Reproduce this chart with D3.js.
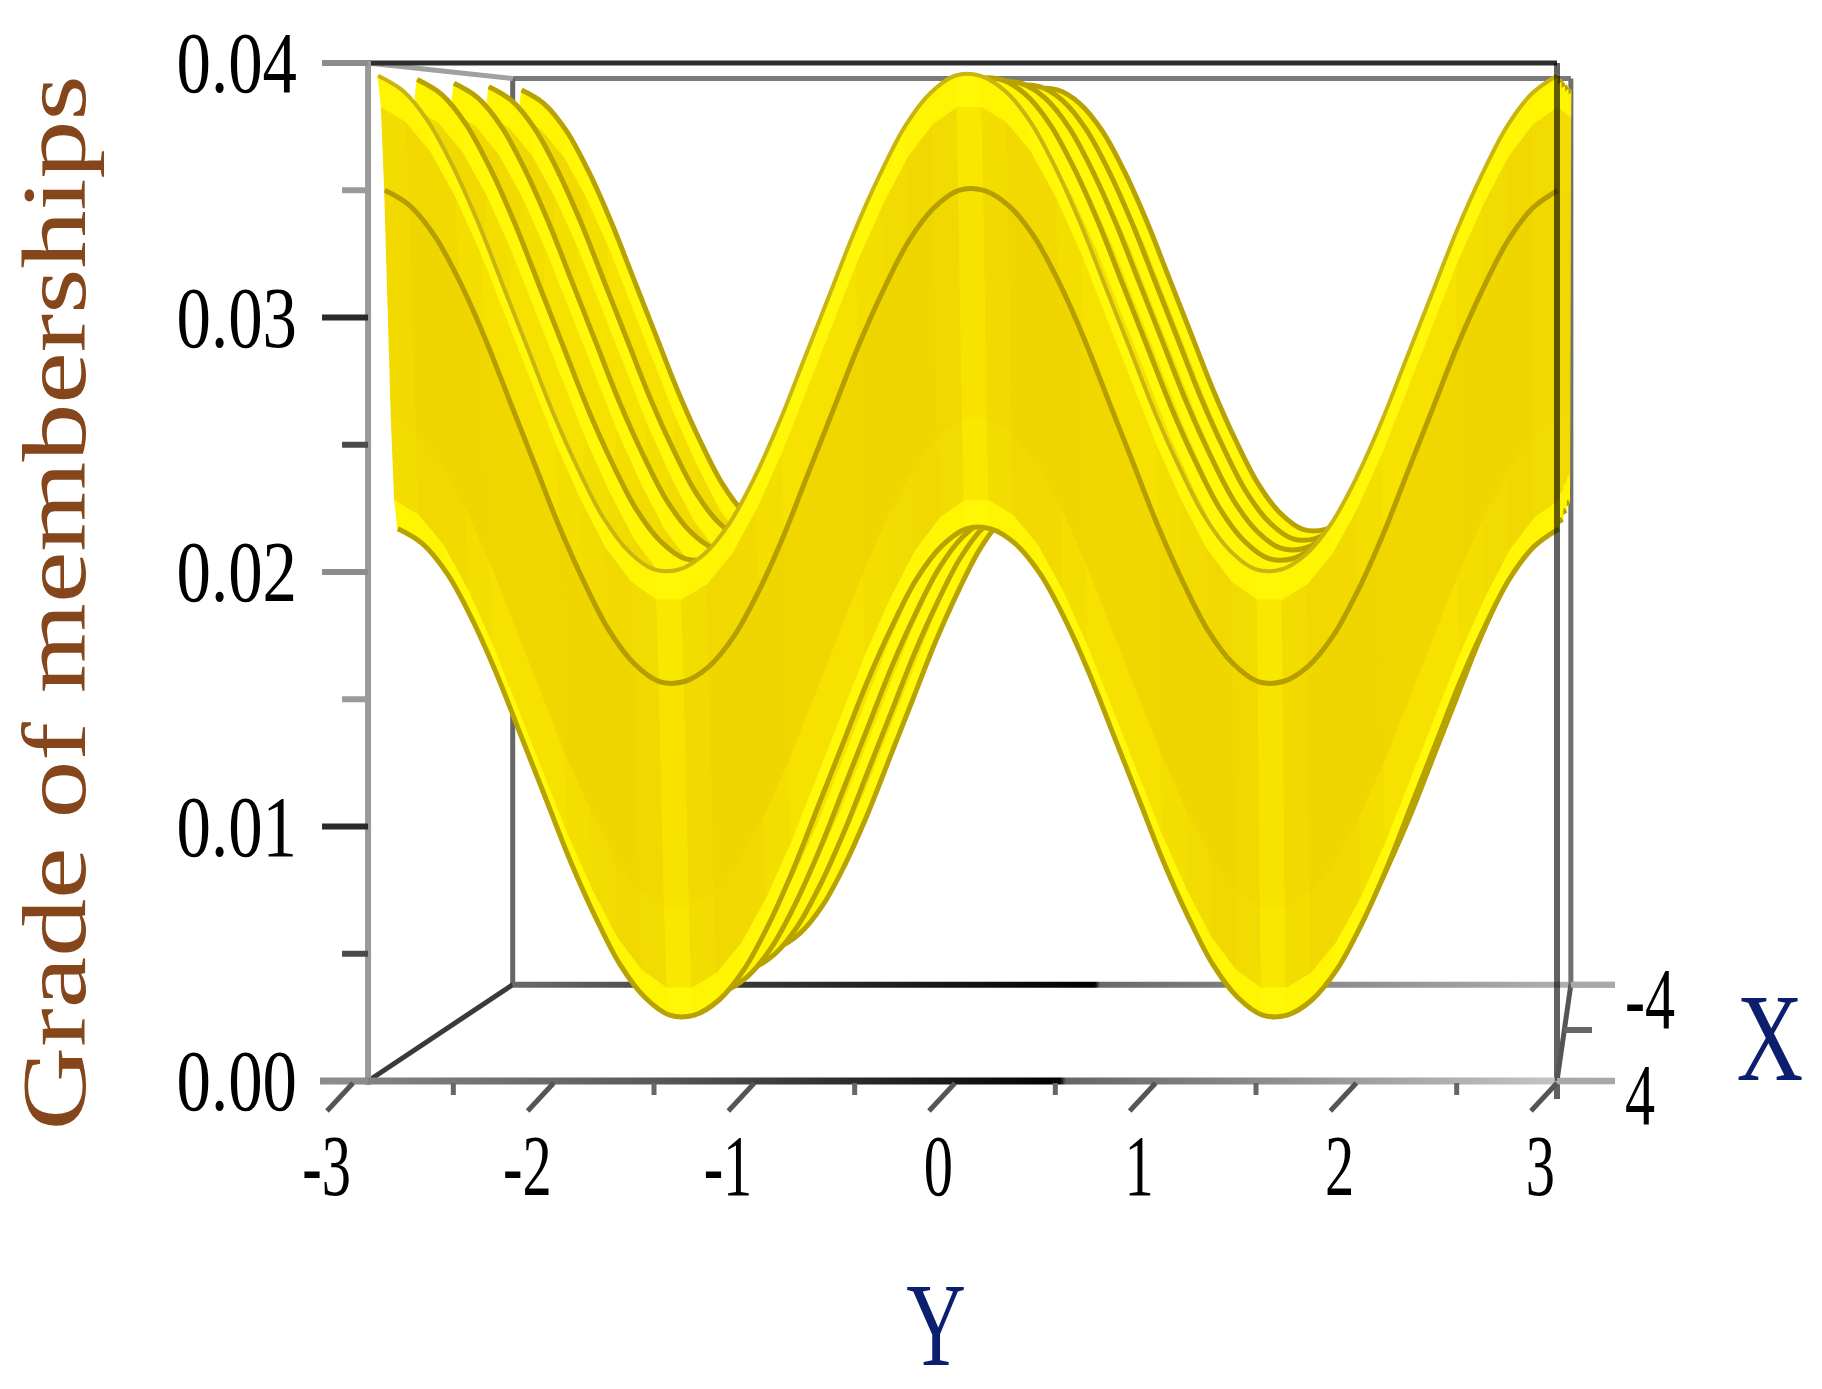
<!DOCTYPE html>
<html>
<head>
<meta charset="utf-8">
<script src="https://cdn.jsdelivr.net/npm/d3@7"></script>
<style>
  body { margin: 0; background: #fff; }
  svg { display: block; }
  text { font-family: "Liberation Serif", "Times New Roman", serif; }
</style>
</head>
<body>
<svg id="chart"></svg>
<script>
// sample positions along Y (horizontal axis)
var ySamples = [-2.875, -2.75, -2.625, -2.5, -2.375, -2.25, -2.125, -2, -1.875, -1.75, -1.625, -1.5,
  -1.375, -1.25, -1.125, -1, -0.875, -0.75, -0.625, -0.5, -0.375, -0.25, -0.125, 0,
  0.125, 0.25, 0.375, 0.5, 0.625, 0.75, 0.875, 1, 1.125, 1.25, 1.375, 1.5,
  1.625, 1.75, 1.875, 2, 2.125, 2.25, 2.375, 2.5, 2.625, 2.75, 2.875, 3];

// membership profile along Y
var profileY = [0.0215, 0.0209, 0.0197, 0.0179, 0.0157, 0.0132, 0.0107, 0.0082, 0.0060, 0.0041, 0.0028, 0.0021,
  0.0021, 0.0027, 0.0039, 0.0057, 0.0079, 0.0104, 0.0129, 0.0154, 0.0176, 0.0195, 0.0208, 0.0215,
  0.0215, 0.0209, 0.0197, 0.0179, 0.0157, 0.0132, 0.0107, 0.0082, 0.0060, 0.0041, 0.0028, 0.0021,
  0.0021, 0.0027, 0.0039, 0.0057, 0.0079, 0.0104, 0.0129, 0.0154, 0.0176, 0.0195, 0.0208, 0.0215];

// sample positions along X (depth axis), front (4) to back (-4)
var xSamples = [4, 3.833, 3.667, 3.5, 3.333, 3.167, 3, 2.833, 2.667, 2.5, 2.333, 2.167,
  2, 1.833, 1.667, 1.5, 1.333, 1.167, 1, 0.833, 0.667, 0.5, 0.333, 0.167,
  0, -0.167, -0.333, -0.5, -0.667, -0.833, -1, -1.167, -1.333, -1.5, -1.667, -1.833,
  -2, -2.167, -2.333, -2.5, -2.667, -2.833, -3, -3.167, -3.333, -3.5, -3.667, -3.833, -4];

// extra grade added by X
var liftX = [0.0180, 0.0168, 0.0135, 0.0090, 0.0045, 0.0012, 0, 0.0012, 0.0045, 0.0090, 0.0135, 0.0168,
  0.0180, 0.0168, 0.0135, 0.0090, 0.0045, 0.0012, 0, 0.0012, 0.0045, 0.0090, 0.0135, 0.0168,
  0.0180, 0.0168, 0.0135, 0.0090, 0.0045, 0.0012, 0, 0.0012, 0.0045, 0.0090, 0.0135, 0.0168,
  0.0180, 0.0168, 0.0135, 0.0090, 0.0045, 0.0012, 0, 0.0012, 0.0045, 0.0090, 0.0135, 0.0168,
  0.0180];

var yTicks = [-3, -2, -1, 0, 1, 2, 3];
var zTicks = [0, 0.01, 0.02, 0.03, 0.04];
var zTickLabels = ["0.00", "0.01", "0.02", "0.03", "0.04"];
var xTicks = [-4, 0, 4];
var xTickLabels = ["-4", "", "4"];

var svgWidth = 1822, svgHeight = 1389;
var svg = d3.select('#chart')
    .attr("width", svgWidth)
    .attr("height", svgHeight);

var yScale = d3.scaleLinear().domain([-3, 3]).range([353, 1557]);
var zScale = d3.scaleLinear().domain([0, 0.04]).range([1081, 63]);
var depth = d3.scaleLinear().domain([4, -4]).range([0, 1]);

// perspective: vanishing point and shrink of the back face
var VP = [1683, 205], K = 0.1236, DEPTH_PX = 1188;
var boxY = [-2.925, 3];

function project(x, y, z) {
    var s = 1 / (1 + K * depth(x));
    return [VP[0] + (yScale(y) - VP[0]) * s, VP[1] + (zScale(z) - VP[1]) * s];
}
function world(x, y, z) {
    return [yScale(y), zScale(z), depth(x) * DEPTH_PX];
}
function seg(a, b, color, w) {
    return svg.append("line")
        .attr("x1", a[0]).attr("y1", a[1]).attr("x2", b[0]).attr("y2", b[1])
        .attr("stroke", color).attr("stroke-width", w);
}

var defs = svg.append("defs");
function hGrad(id, x1, x2, stops) {
    var g = defs.append("linearGradient").attr("id", id)
        .attr("gradientUnits", "userSpaceOnUse")
        .attr("x1", x1).attr("x2", x2).attr("y1", 0).attr("y2", 0);
    stops.forEach(function(s) {
        g.append("stop").attr("offset", (s[0] - x1) / (x2 - x1)).attr("stop-color", s[1]);
    });
}
hGrad("frontBottom", 320, 1615, [[320, "#8a8a8a"], [650, "#5a5a5a"], [860, "#2a2a2a"], [1060, "#000"], [1066, "#666"], [1615, "#cfcfcf"]]);
hGrad("backBottom", 514, 1615, [[514, "#6a6a6a"], [770, "#333"], [1095, "#000"], [1100, "#6a6a6a"], [1615, "#b5b5b5"]]);

// ---- back part of the box ----
var bTL = project(-4, boxY[0], 0.04), bTR = project(-4, boxY[1], 0.04);
var bBL = project(-4, boxY[0], 0), bBR = project(-4, boxY[1], 0);
var fTL = project(4, boxY[0], 0.04), fTR = project(4, boxY[1], 0.04);
var fBL = project(4, boxY[0], 0), fBR = project(4, boxY[1], 0);

seg(bTL, bTR, "#7a7a7a", 5);
seg(bTL, bBL, "#666", 5);
seg(fTL, bTL, "#a0a0a0", 5);
seg(fBL, bBL, "#3a3a3a", 5);
seg(bBL, [1615, bBL[1]], "url(#backBottom)", 6);
seg(bTR, bBR, "#707070", 5);

// ---- surface, drawn back to front ----
// faces turning edge-on get bright yellow, steep flanks go gold
var shadeColor = d3.scaleLinear()
    .domain([0.5, 0.9, 0.97, 1.03])
    .range(["#ffff12", "#fff300", "#f9e500", "#efd600"])
    .clamp(true);

var surface = svg.append("g");
var lineGen = d3.line();
var foldLine = d3.line().curve(d3.curveCatmullRom);

function slicePoints(i) {
    return ySamples.map(function(y, j) { return project(xSamples[i], y, profileY[j] + liftX[i]); });
}
function isFold(i) {
    var prev = i > 0 ? liftX[i - 1] : -1;
    var next = i < liftX.length - 1 ? liftX[i + 1] : -1;
    return (liftX[i] >= prev && liftX[i] >= next) || (liftX[i] <= prev && liftX[i] <= next && i > 0 && i < liftX.length - 1);
}
function drawSlice(i, color, w) {
    surface.append("path")
        .datum(slicePoints(i))
        .attr("fill", "none")
        .attr("stroke", color)
        .attr("stroke-width", w)
        .attr("stroke-linejoin", "round")
        .attr("d", foldLine);
}

for (var i = xSamples.length - 2; i >= 0; i--) {
    for (var j = 0; j < ySamples.length - 1; j++) {
        var corners = [[i, j], [i, j + 1], [i + 1, j + 1], [i + 1, j]];
        var pts = corners.map(function(c) {
            return project(xSamples[c[0]], ySamples[c[1]], profileY[c[1]] + liftX[c[0]]);
        });
        var w = corners.map(function(c) {
            return world(xSamples[c[0]], ySamples[c[1]], profileY[c[1]] + liftX[c[0]]);
        });
        var a = [w[2][0] - w[0][0], w[2][1] - w[0][1], w[2][2] - w[0][2]];
        var b = [w[3][0] - w[1][0], w[3][1] - w[1][1], w[3][2] - w[1][2]];
        var n = [a[1] * b[2] - a[2] * b[1], a[2] * b[0] - a[0] * b[2], a[0] * b[1] - a[1] * b[0]];
        var nl = Math.hypot(n[0], n[1], n[2]) || 1;
        var col = shadeColor(Math.abs(n[2] / nl) + 0.35 * Math.abs(n[0] / nl));
        surface.append("path")
            .attr("d", lineGen(pts) + "Z")
            .attr("fill", col)
            .attr("stroke", col)
            .attr("stroke-width", 1.2)
            .attr("stroke-linejoin", "round");
    }
    // outline of the fold just behind this strip
    if (isFold(i + 1)) drawSlice(i + 1, "#b8a200", 5);
}
drawSlice(0, "#c9b410", 4);
// the slice line seen inside the band
drawSlice(2, "#b49e00", 5);

// ---- front part of the box ----
seg(fTL, fTR, "#2e2e2e", 5);
seg([fTL[0], fTL[1] - 2], [fBL[0], fBL[1] + 4], "#9a9a9a", 6);
seg(fTR, [fBR[0], fBR[1] + 18], "rgba(0,0,0,0.62)", 6);
seg([320, fBL[1]], [1615, fBL[1]], "url(#frontBottom)", 7);

// Z axis ticks on the front left edge
var zMinor = [0.005, 0.015, 0.025, 0.035];
zTicks.forEach(function(v, k) {
    seg([fTL[0] - 46, zScale(v)], [fTL[0], zScale(v)], k % 2 ? "#2a2a2a" : "#8c8c8c", 6);
});
zMinor.forEach(function(v, k) {
    seg([fTL[0] - 26, zScale(v)], [fTL[0], zScale(v)], k % 2 ? "#9a9a9a" : "#4a4a4a", 6);
});
svg.append("g").selectAll("text").data(zTicks).enter().append("text")
    .attr("transform", function(d) { return "translate(297," + (zScale(d) + 29) + ") scale(0.8,1)"; })
    .attr("text-anchor", "end")
    .attr("font-size", 86)
    .attr("fill", "#000")
    .text(function(d, k) { return zTickLabels[k]; });

// Y axis ticks on the front bottom edge
yTicks.forEach(function(v) {
    var x = yScale(v);
    seg([x, fBL[1] + 2], [x - 26, fBL[1] + 30], "#555", 5);
    if (v < 3) seg([yScale(v + 0.5), fBL[1] + 2], [yScale(v + 0.5), fBL[1] + 14], "#666", 5);
});
svg.append("g").selectAll("text").data(yTicks).enter().append("text")
    .attr("transform", function(d) { return "translate(" + (yScale(d) - 2) + ",1195) scale(0.68,1)"; })
    .attr("text-anchor", "end")
    .attr("font-size", 86)
    .attr("fill", "#000")
    .text(function(d) { return d; });

// X axis (depth) on the right edge
var xa = project(4, 3, 0), xb = project(-4, 3, 0);
seg(xa, xb, "#555", 5);
xTicks.forEach(function(v, k) {
    var p = project(v, 3, 0);
    seg([p[0], p[1]], [k === 1 ? 1592 : 1615, p[1]], k === 1 ? "#666" : "#a8a8a8", 6);
    if (xTickLabels[k]) {
        svg.append("text")
            .attr("transform", "translate(" + 1625 + "," + (p[1] + 43) + ") scale(0.7,1)")
            .attr("font-size", 86)
            .attr("fill", "#000")
            .text(xTickLabels[k]);
    }
});

// axis titles
svg.append("text")
    .attr("transform", "translate(1770,1080) scale(0.74,1)")
    .attr("text-anchor", "middle")
    .attr("font-size", 125)
    .attr("fill", "#0c1f6e")
    .text("X");
svg.append("text")
    .attr("transform", "translate(936,1365) scale(0.7,1)")
    .attr("text-anchor", "middle")
    .attr("font-size", 118)
    .attr("fill", "#0c1f6e")
    .text("Y");
svg.append("text")
    .attr("transform", "translate(85,603) rotate(-90)")
    .attr("text-anchor", "middle")
    .attr("font-size", 90)
    .attr("fill", "#84461a")
    .attr("textLength", 1055)
    .attr("lengthAdjust", "spacingAndGlyphs")
    .text("Grade of memberships");
</script>
</body>
</html>
